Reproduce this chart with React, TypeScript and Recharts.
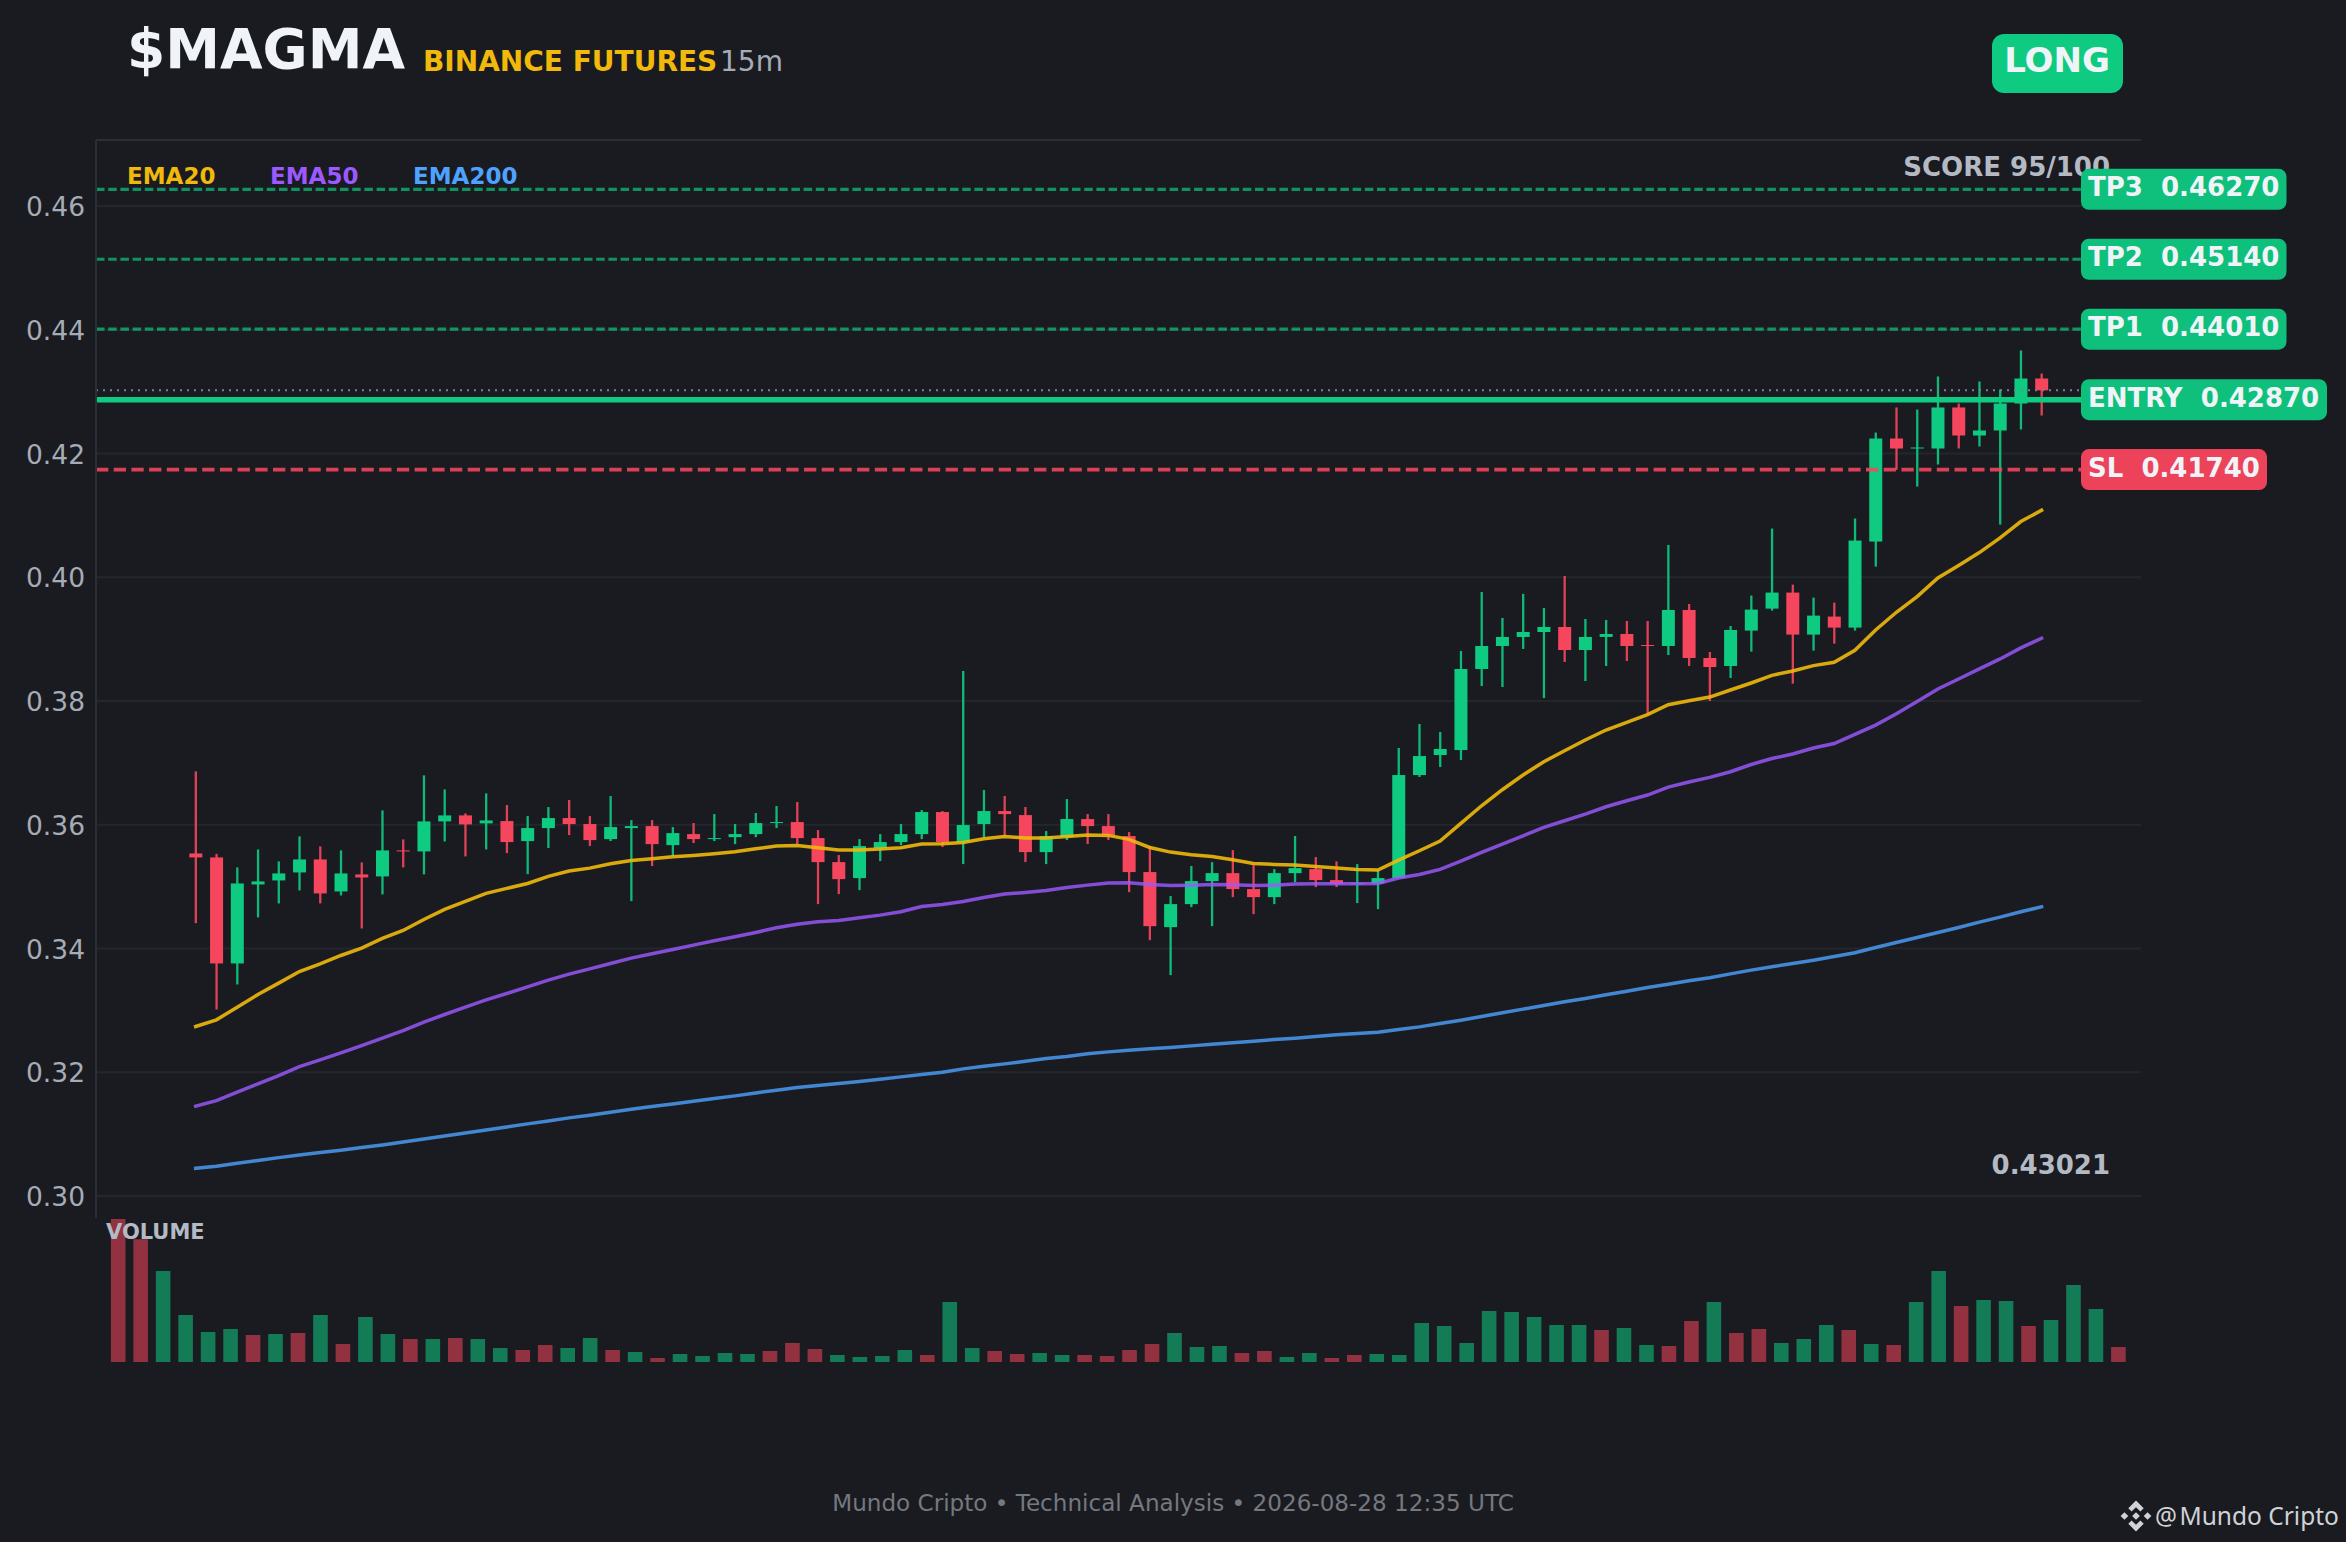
import React from 'react';
import {
  ComposedChart, Bar, Line, Cell, XAxis, YAxis, CartesianGrid, ReferenceLine,
} from 'recharts';

const BG = '#1a1b20';
const GREEN = '#0ECB81';
const RED = '#F6465D';
const GOLD = '#F0B90B';
const PURPLE = '#9B59FF';
const BLUE = '#4DA3FF';
const FONT = '"DejaVu Sans", sans-serif';

const opens = [
  0.35536, 0.35472, 0.33758, 0.35035, 0.3510, 0.35229, 0.35439, 0.34922, 0.35197, 0.35165,
  0.35585, 0.35569, 0.36054, 0.36151, 0.36022, 0.36059, 0.35736, 0.35946, 0.36108, 0.36011,
  0.35768, 0.35946, 0.35978, 0.35671, 0.35849, 0.35768, 0.3580, 0.35849, 0.36027, 0.36043,
  0.35784, 0.35396, 0.35138, 0.35623, 0.3572, 0.35849, 0.36205, 0.3572, 0.36011, 0.36221,
  0.36156, 0.35558, 0.35801, 0.36092, 0.35978, 0.35817, 0.35235, 0.34345, 0.34717, 0.35089,
  0.35218, 0.3496, 0.3483, 0.35218, 0.35283, 0.35105, 0.35041, 0.35051, 0.35138, 0.36803,
  0.37127, 0.37207, 0.38517, 0.38889, 0.39035, 0.39115, 0.39196, 0.38824, 0.39035, 0.39083,
  0.38905, 0.38889, 0.39471, 0.38695, 0.38566, 0.39138, 0.39493, 0.39752, 0.39073, 0.39364,
  0.39186, 0.40577, 0.42242, 0.42081, 0.42081, 0.42744, 0.42291, 0.42372, 0.42808, 0.43212,
];
const highs = [
  0.36862, 0.3553, 0.3531, 0.35601, 0.35407, 0.35811, 0.3565, 0.35585, 0.35391, 0.36232,
  0.35763, 0.36798, 0.36571, 0.36183, 0.36507, 0.36318, 0.3614, 0.36286, 0.36399, 0.3614,
  0.36464, 0.36075, 0.36075, 0.35962, 0.36027, 0.36172, 0.36011, 0.36189, 0.36302, 0.36367,
  0.35914, 0.3551, 0.35768, 0.35849, 0.36011, 0.36237, 0.36221, 0.38485, 0.36561, 0.36464,
  0.36286, 0.35898, 0.36415, 0.36172, 0.36172, 0.35881, 0.35655, 0.34847, 0.35332, 0.35396,
  0.3559, 0.35348, 0.35283, 0.35817, 0.35477, 0.35407, 0.35364, 0.35267, 0.3724, 0.37628,
  0.37498, 0.38808, 0.39762, 0.39342, 0.3973, 0.39504, 0.40021, 0.39326, 0.3931, 0.39293,
  0.39293, 0.40522, 0.39568, 0.38792, 0.39212, 0.39704, 0.40787, 0.39881, 0.39671, 0.3959,
  0.40949, 0.42339, 0.42744, 0.42711, 0.43245, 0.42808, 0.43164, 0.43035, 0.43665, 0.43293,
];
const lows = [
  0.3441, 0.33014, 0.33418, 0.34502, 0.34728, 0.34938, 0.34728, 0.34857, 0.34324, 0.34873,
  0.3531, 0.35197, 0.3573, 0.35488, 0.35601, 0.35542, 0.35202, 0.35623, 0.35833, 0.35655,
  0.35736, 0.34766, 0.35332, 0.35493, 0.35704, 0.35736, 0.35687, 0.358, 0.35946, 0.35687,
  0.34717, 0.34879, 0.34943, 0.35412, 0.35671, 0.35768, 0.35639, 0.35364, 0.35801, 0.35817,
  0.35396, 0.35364, 0.35752, 0.35687, 0.35752, 0.34911, 0.34135, 0.33569, 0.34669, 0.34361,
  0.3483, 0.34555, 0.34717, 0.35073, 0.34992, 0.34992, 0.34733, 0.34636, 0.35138, 0.36771,
  0.36933, 0.37046, 0.38242, 0.38226, 0.38841, 0.38048, 0.3863, 0.38323, 0.38566, 0.38647,
  0.3779, 0.38743, 0.38566, 0.38, 0.38372, 0.38798, 0.39461, 0.38281, 0.38814, 0.38927,
  0.39138, 0.40172, 0.41736, 0.41466, 0.41822, 0.42081, 0.42113, 0.40852, 0.42388, 0.42614,
];
const closes = [
  0.35472, 0.33758, 0.35051, 0.35084, 0.35213, 0.35439, 0.3489, 0.35213, 0.35148, 0.35585,
  0.35569, 0.36054, 0.36151, 0.36005, 0.3607, 0.3572, 0.35946, 0.36108, 0.36011, 0.35752,
  0.35962, 0.35978, 0.35687, 0.35865, 0.35768, 0.35784, 0.35849, 0.36027, 0.36043, 0.35784,
  0.35396, 0.35121, 0.35655, 0.3572, 0.35849, 0.36205, 0.3572, 0.35995, 0.36221, 0.36172,
  0.35558, 0.35817, 0.36092, 0.35978, 0.35833, 0.35235, 0.34361, 0.34717, 0.35089, 0.35218,
  0.3496, 0.3483, 0.35218, 0.35299, 0.35105, 0.35041, 0.35057, 0.35138, 0.36803, 0.3711,
  0.37224, 0.38517, 0.38889, 0.39035, 0.39115, 0.39196, 0.38824, 0.39035, 0.39083, 0.38889,
  0.38889, 0.39471, 0.38695, 0.38549, 0.39148, 0.39477, 0.39752, 0.39073, 0.3938, 0.39186,
  0.40593, 0.42242, 0.42081, 0.42097, 0.42744, 0.42291, 0.42372, 0.42808, 0.43212, 0.43021,
];
const ema20 = [
  0.32739, 0.32847, 0.33052, 0.33256, 0.3344, 0.33628, 0.33752, 0.33887, 0.34006, 0.34162,
  0.34291, 0.34469, 0.34631, 0.3476, 0.3489, 0.34971, 0.35051, 0.35165, 0.35251, 0.35299,
  0.35369, 0.35423, 0.3545, 0.35483, 0.35504, 0.35531, 0.35563, 0.35612, 0.35655, 0.35666,
  0.35628, 0.3559, 0.3559, 0.35607, 0.35628, 0.35687, 0.35693, 0.35714, 0.35774, 0.35811,
  0.35784, 0.35784, 0.35811, 0.35833, 0.35828, 0.35763, 0.35633, 0.35558, 0.35515, 0.35488,
  0.35434, 0.35375, 0.35359, 0.35348, 0.35326, 0.35299, 0.35278, 0.35267, 0.35429, 0.3558,
  0.35736, 0.36022, 0.36307, 0.36566, 0.36803, 0.37019, 0.37197, 0.37369, 0.37531, 0.37655,
  0.37779, 0.3794, 0.38005, 0.38064, 0.38178, 0.38291, 0.38415, 0.38485, 0.38572, 0.38626,
  0.3882, 0.39148, 0.39434, 0.39687, 0.39989, 0.40189, 0.40399, 0.40636, 0.409, 0.41083,
];
const ema50 = [
  0.31451, 0.31542, 0.31677, 0.31812, 0.31946, 0.32092, 0.322, 0.32313, 0.32431, 0.3255,
  0.32674, 0.32809, 0.32933, 0.33051, 0.3317, 0.33272, 0.3338, 0.33488, 0.33585, 0.33671,
  0.33757, 0.33844, 0.33914, 0.33984, 0.34054, 0.34124, 0.34189, 0.34259, 0.34334, 0.34393,
  0.34431, 0.34453, 0.34496, 0.34539, 0.34593, 0.34679, 0.34712, 0.3476, 0.34825, 0.34879,
  0.34906, 0.34938, 0.34987, 0.35024, 0.35057, 0.35062, 0.35035, 0.35019, 0.35024, 0.35035,
  0.3503, 0.35019, 0.35024, 0.35041, 0.35046, 0.35046, 0.35046, 0.35051, 0.35138, 0.35197,
  0.35278, 0.35412, 0.35553, 0.35687, 0.35822, 0.35957, 0.36065, 0.36172, 0.36291, 0.36388,
  0.3648, 0.36609, 0.3669, 0.36765, 0.36857, 0.36974, 0.37071, 0.37143, 0.37241, 0.37313,
  0.37459, 0.3761, 0.37795, 0.37991, 0.38195, 0.38356, 0.38518, 0.3868, 0.38858, 0.39014,
];
const ema200 = [
  0.30448, 0.3048, 0.30529, 0.30572, 0.3062, 0.30664, 0.30701, 0.30739, 0.30782, 0.30825,
  0.30874, 0.30922, 0.30971, 0.31019, 0.31068, 0.31116, 0.31165, 0.31213, 0.31262, 0.31305,
  0.31354, 0.31402, 0.31445, 0.31488, 0.31531, 0.31574, 0.31618, 0.31666, 0.31709, 0.31752,
  0.31785, 0.31817, 0.31849, 0.31887, 0.31925, 0.31963, 0.32, 0.32054, 0.32097, 0.32135,
  0.32178, 0.32221, 0.32254, 0.32297, 0.32329, 0.32356, 0.32378, 0.32399, 0.32426, 0.32453,
  0.32475, 0.32502, 0.32529, 0.3255, 0.32577, 0.32604, 0.32626, 0.32647, 0.3269, 0.32733,
  0.32787, 0.32841, 0.329, 0.3296, 0.3302, 0.33078, 0.33138, 0.33192, 0.33251, 0.3331,
  0.33369, 0.33423, 0.33477, 0.33526, 0.3359, 0.3365, 0.33704, 0.33757, 0.33811, 0.33871,
  0.3393, 0.34016, 0.34097, 0.34178, 0.34259, 0.3434, 0.34426, 0.34507, 0.34593, 0.34674,
];
const volumes = [
  429, 368, 273, 141, 90, 99, 81, 84, 87, 141,
  54, 135, 84, 69, 69, 72, 69, 42, 36, 51,
  42, 72, 36, 30, 12, 24, 18, 27, 24, 33,
  57, 39, 21, 15, 18, 36, 21, 180, 42, 33,
  24, 27, 21, 21, 18, 36, 54, 87, 45, 48,
  27, 33, 15, 27, 12, 21, 24, 21, 117, 108,
  57, 153, 150, 135, 111, 111, 96, 102, 51, 48,
  123, 180, 87, 99, 57, 69, 111, 96, 54, 51,
  180, 273, 168, 186, 183, 108, 126, 231, 159, 45,
];

const priceTicks = [0.3, 0.32, 0.34, 0.36, 0.38, 0.4, 0.42, 0.44, 0.46];
const takeProfits = [
  { name: 'TP3', price: 0.4627 },
  { name: 'TP2', price: 0.4514 },
  { name: 'TP1', price: 0.4401 },
];
const entryPrice = 0.4287;
const stopPrice = 0.4174;
const lastPrice = 0.43021;
const yMin = 0.29644;
const yMax = 0.47067;

const table = opens.map((open, i) => ({
  idx: i,
  open,
  high: highs[i],
  low: lows[i],
  close: closes[i],
  range: [lows[i], highs[i]],
  ema20: ema20[i],
  ema50: ema50[i],
  ema200: ema200[i],
  volume: volumes[i],
}));

// wick + body, scaled from the low/high bar recharts hands us
const Candle = (props: any) => {
  const { x, y, width, height, payload } = props;
  const color = payload.close >= payload.open ? GREEN : RED;
  const perUnit = height / (payload.high - payload.low);
  const top = y + (payload.high - Math.max(payload.open, payload.close)) * perUnit;
  const bodyH = Math.max(Math.abs(payload.open - payload.close) * perUnit, 1);
  return (
    <g>
      <rect x={x + width / 2 - 1.15} y={y} width={2.3} height={height} fill={color} fillOpacity={0.9} />
      <rect x={x} y={top} width={width} height={bodyH} fill={color} />
    </g>
  );
};

// price tag sitting at the right end of a level line
const PriceTag = ({ viewBox, text, fill, boxWidth }: any) => {
  const right = viewBox.x + viewBox.width;
  const left = right - 60;
  return (
    <g>
      <rect x={left} y={viewBox.y - 20.5} width={boxWidth} height={41} rx={8} fill={fill} />
      <text
        x={left + 7}
        y={viewBox.y + 7}
        fill="#F0F4F8"
        fontFamily={FONT}
        fontWeight={700}
        fontSize={26}
      >
        {text}
      </text>
    </g>
  );
};

const tagText = (name: string, price: number) => `${name}\u00A0\u00A0${price.toFixed(5)}`;

const App = () => (
  <div style={{ position: 'fixed', left: 0, top: 0, width: 2346, height: 1542, background: BG, overflow: 'hidden' }}>
    <ComposedChart
      style={{ position: 'absolute', left: 0, top: 0 }}
      width={2346}
      height={1542}
      data={table}
      margin={{ top: 1219, right: 216.4, bottom: 180, left: 106.9 }}
    >
      <XAxis dataKey="idx" hide />
      <YAxis hide domain={[0, 429]} allowDataOverflow />
      <Bar dataKey="volume" barSize={14.6} fillOpacity={0.55} isAnimationActive={false}>
        {table.map((d) => (
          <Cell key={d.idx} fill={d.close >= d.open ? GREEN : RED} />
        ))}
      </Bar>
    </ComposedChart>

    <svg width={2346} height={1542} style={{ position: 'absolute', left: 0, top: 0 }} fontFamily={FONT}>
      <text x={2110} y={176} textAnchor="end" fill="#B4BAC4" fontWeight={700} fontSize={26}>SCORE 95/100</text>
    </svg>

    <ComposedChart
      style={{ position: 'absolute', left: 0, top: 0 }}
      width={2346}
      height={1542}
      data={table}
      margin={{ top: 140, right: 205, bottom: 324, left: 0 }}
    >
      <CartesianGrid vertical={false} stroke="#23272c" strokeWidth={2} horizontalValues={priceTicks} />
      <XAxis dataKey="idx" hide padding={{ left: 89.33, right: 89.07 }} />
      <YAxis
        width={96}
        domain={[yMin, yMax]}
        allowDataOverflow
        ticks={priceTicks}
        tickFormatter={(v: number) => v.toFixed(2)}
        tickLine={false}
        tickMargin={5}
        axisLine={{ stroke: '#2a2e36', strokeWidth: 2 }}
        tick={{ fontSize: 26.5, fill: '#A6ACB6', fontFamily: FONT, dy: 0.8 }}
      />
      <YAxis
        yAxisId="right"
        orientation="right"
        width={0}
        domain={[yMin, yMax]}
        allowDataOverflow
        tick={false}
        tickLine={false}
        axisLine={{ stroke: '#2a2e36', strokeWidth: 2 }}
      />
      <ReferenceLine y={yMax} stroke="#2a2e36" strokeWidth={2} />
      <ReferenceLine y={lastPrice} stroke="#7d8289" strokeWidth={2} strokeDasharray="2 5" />
      {takeProfits.map((tp) => (
        <ReferenceLine
          key={tp.name}
          y={tp.price}
          stroke={GREEN}
          strokeOpacity={0.68}
          strokeWidth={3.2}
          strokeDasharray="8.5 3.7"
          label={<PriceTag text={tagText(tp.name, tp.price)} fill="#0EC07B" boxWidth={205.5} />}
        />
      ))}
      <ReferenceLine
        y={stopPrice}
        stroke={RED}
        strokeOpacity={0.88}
        strokeWidth={3.7}
        strokeDasharray="12.3 5.4"
        label={<PriceTag text={tagText('SL', stopPrice)} fill="#EC435B" boxWidth={186} />}
      />
      <Line dataKey="ema200" stroke={BLUE} strokeOpacity={0.8} strokeWidth={3.5} strokeLinecap="square" dot={false} isAnimationActive={false} />
      <Line dataKey="ema50" stroke={PURPLE} strokeOpacity={0.82} strokeWidth={3.5} strokeLinecap="square" dot={false} isAnimationActive={false} />
      <Line dataKey="ema20" stroke={GOLD} strokeOpacity={0.9} strokeWidth={3.5} strokeLinecap="square" dot={false} isAnimationActive={false} />
      <Bar dataKey="range" barSize={13} shape={<Candle />} isAnimationActive={false} />
      <ReferenceLine
        y={entryPrice}
        stroke={GREEN}
        strokeWidth={5.5}
        label={<PriceTag text={tagText('ENTRY', entryPrice)} fill="#0EC07B" boxWidth={246} />}
      />
    </ComposedChart>

    <svg width={2346} height={1542} style={{ position: 'absolute', left: 0, top: 0, pointerEvents: 'none' }} fontFamily={FONT}>
      <text x={127} y={68} fill="#F0F4F8" fontWeight={700} fontSize={55}>$MAGMA</text>
      <text x={423} y={71} fill={GOLD} fontWeight={700} fontSize={28}>BINANCE FUTURES</text>
      <text x={720} y={71} fill="#A6ACB6" fontSize={28}>15m</text>

      <rect x={1992} y={34} width={131} height={59} rx={12} fill={GREEN} />
      <text x={2057} y={72} textAnchor="middle" fill="#F0F4F8" fontWeight={700} fontSize={34}>LONG</text>

      <text x={127} y={184} fill={GOLD} fontWeight={700} fontSize={23}>EMA20</text>
      <text x={270} y={184} fill={PURPLE} fontWeight={700} fontSize={23}>EMA50</text>
      <text x={413} y={184} fill={BLUE} fontWeight={700} fontSize={23}>EMA200</text>

      <text x={2110} y={1174} textAnchor="end" fill="#B4BAC4" fontWeight={700} fontSize={26}>0.43021</text>
      <text x={106} y={1239} fill="#B4BAC4" fontWeight={700} fontSize={21}>VOLUME</text>

      <text x={1173} y={1511} textAnchor="middle" fill="#74787f" fontSize={23.1}>
        Mundo Cripto • Technical Analysis • 2026-08-28 12:35 UTC
      </text>

      <g transform="translate(2136 1516) scale(1.1)" fill="#CFD2D6">
        <path d="M0 -14 L7 -7 L4 -4 L0 -8 L-4 -4 L-7 -7 Z" />
        <path d="M0 14 L7 7 L4 4 L0 8 L-4 4 L-7 7 Z" />
        <path d="M-14 0 L-10.5 -3.5 L-7 0 L-10.5 3.5 Z" />
        <path d="M14 0 L10.5 -3.5 L7 0 L10.5 3.5 Z" />
        <path d="M0 -3.5 L3.5 0 L0 3.5 L-3.5 0 Z" />
      </g>
      <text x={2155} y={1525} fill="#CFD2D6" fontFamily='"Noto Sans", sans-serif' fontSize={24.5}>@</text>
      <text x={2179.5} y={1525} fill="#CFD2D6" fontFamily='"Noto Sans", sans-serif' fontSize={24.5}>Mundo Cripto</text>
    </svg>
  </div>
);

export default App;
